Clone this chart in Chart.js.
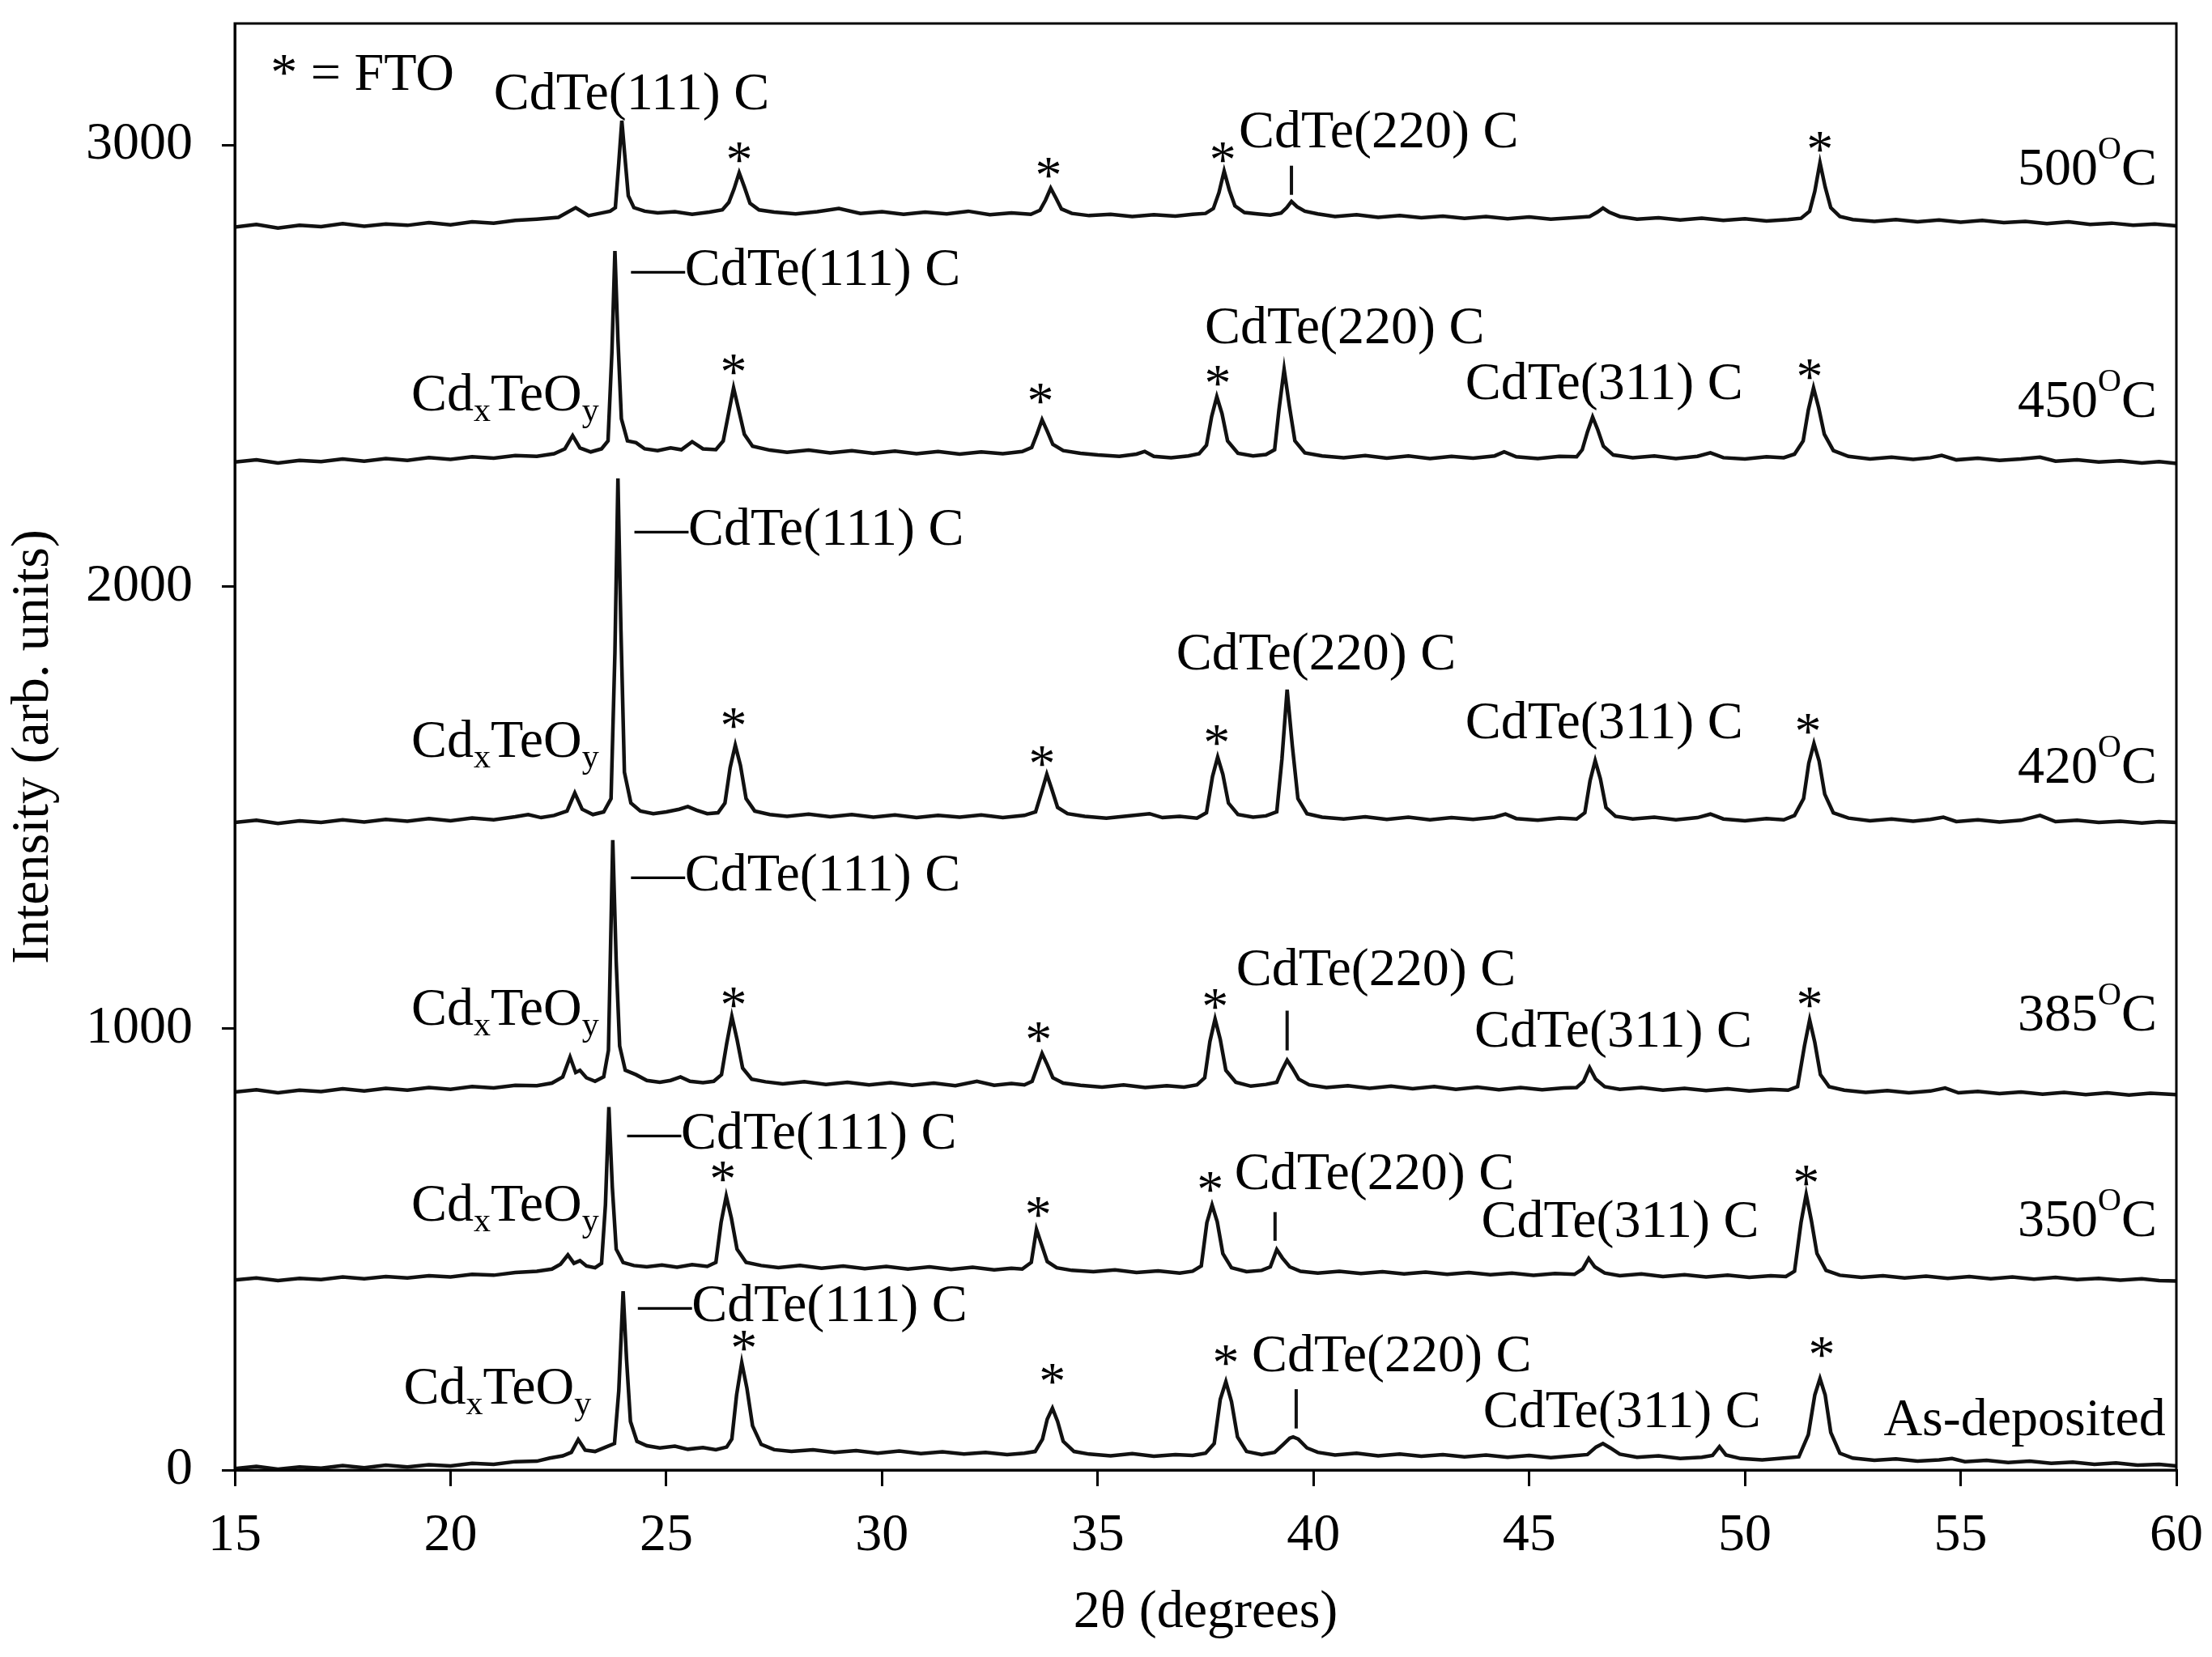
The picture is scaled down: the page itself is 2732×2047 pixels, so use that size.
<!DOCTYPE html>
<html>
<head>
<meta charset="utf-8">
<title>XRD CdTe</title>
<script src="https://cdn.jsdelivr.net/npm/chart.js@4.4.1/dist/chart.umd.min.js"></script>
<style>
  html, body { margin: 0; padding: 0; background: #fff; }
  canvas { display: block; }
</style>
</head>
<body>
<canvas id="xrd-chart" width="2732" height="2047"></canvas>
<script>
// Eixos
const xTicks = [15, 20, 25, 30, 35, 40, 45, 50, 55, 60];
const yTicks = [0, 1000, 2000, 3000];

// Difratogramas (2theta, intensidade)
const s500 = [
  [15.0,2814],[15.5,2820],[16.0,2812],[16.5,2818],[17.0,2815],[17.5,2822],[18.0,2816],[18.5,2821],[19.0,2818],[19.5,2824],
  [20.0,2819],[20.5,2826],[21.0,2823],[21.5,2829],[22.0,2832],[22.5,2836],[22.9,2858],[23.2,2840],[23.5,2846],[23.7,2850],
  [23.82,2858],[23.9,2960],[23.97,3055],[24.04,2975],[24.12,2885],[24.25,2858],[24.5,2850],[24.8,2846],[25.2,2849],[25.6,2843],
  [26.0,2848],[26.3,2853],[26.45,2870],[26.57,2900],[26.69,2937],[26.81,2905],[26.94,2868],[27.15,2853],[27.5,2848],[28.0,2844],
  [28.5,2849],[29.0,2856],[29.5,2845],[30.0,2849],[30.5,2843],[31.0,2848],[31.5,2844],[32.0,2850],[32.5,2842],[33.0,2846],
  [33.45,2843],[33.66,2852],[33.79,2875],[33.91,2902],[34.03,2880],[34.16,2855],[34.4,2845],[34.8,2840],[35.3,2843],[35.8,2838],
  [36.3,2842],[36.8,2839],[37.2,2843],[37.5,2845],[37.68,2856],[37.81,2892],[37.93,2941],[38.05,2898],[38.18,2862],[38.4,2847],
  [38.7,2844],[39.0,2841],[39.25,2846],[39.38,2858],[39.49,2872],[39.62,2860],[39.8,2850],[40.1,2844],[40.5,2838],[41.0,2842],
  [41.5,2836],[42.0,2840],[42.5,2835],[43.0,2839],[43.5,2834],[44.0,2838],[44.5,2833],[45.0,2837],[45.5,2832],[46.0,2835],
  [46.4,2838],[46.58,2848],[46.71,2857],[46.85,2848],[47.1,2838],[47.5,2832],[48.0,2835],[48.5,2830],[49.0,2834],[49.5,2829],
  [50.0,2833],[50.5,2828],[51.0,2831],[51.3,2834],[51.5,2850],[51.62,2895],[51.74,2960],[51.86,2905],[51.99,2858],[52.2,2838],
  [52.5,2831],[53.0,2827],[53.5,2831],[54.0,2826],[54.5,2830],[55.0,2825],[55.5,2829],[56.0,2824],[56.5,2827],[57.0,2822],
  [57.5,2826],[58.0,2820],[58.5,2823],[59.0,2818],[59.5,2821],[60.0,2817]
];

const s450 = [
  [15.0,2282],[15.5,2287],[16.0,2280],[16.5,2286],[17.0,2283],[17.5,2289],[18.0,2284],[18.5,2290],[19.0,2286],[19.5,2292],
  [20.0,2288],[20.5,2294],[21.0,2291],[21.5,2297],[22.0,2295],[22.4,2301],[22.65,2312],[22.83,2342],[23.0,2314],[23.25,2305],
  [23.5,2312],[23.65,2330],[23.74,2530],[23.81,2760],[23.88,2560],[23.96,2380],[24.1,2330],[24.3,2326],[24.5,2312],[24.8,2308],
  [25.1,2314],[25.35,2310],[25.6,2328],[25.85,2312],[26.15,2310],[26.32,2330],[26.44,2390],[26.56,2450],[26.68,2400],[26.81,2345],
  [27.0,2318],[27.4,2309],[27.8,2304],[28.3,2309],[28.8,2303],[29.3,2308],[29.8,2302],[30.3,2307],[30.8,2301],[31.3,2306],
  [31.8,2300],[32.3,2305],[32.8,2301],[33.25,2306],[33.47,2315],[33.59,2345],[33.71,2378],[33.83,2352],[33.96,2322],[34.2,2308],
  [34.6,2302],[35.0,2298],[35.5,2295],[35.9,2300],[36.09,2306],[36.3,2295],[36.7,2292],[37.1,2296],[37.35,2301],[37.52,2320],
  [37.64,2385],[37.76,2430],[37.88,2392],[38.01,2330],[38.25,2302],[38.6,2296],[38.9,2299],[39.1,2310],[39.2,2400],[39.32,2492],
  [39.44,2410],[39.57,2330],[39.8,2303],[40.2,2296],[40.7,2292],[41.2,2297],[41.7,2291],[42.2,2296],[42.7,2290],[43.2,2295],
  [43.7,2291],[44.2,2296],[44.42,2305],[44.7,2294],[45.2,2290],[45.7,2295],[46.1,2294],[46.23,2310],[46.35,2350],[46.47,2384],
  [46.59,2355],[46.72,2318],[46.95,2298],[47.4,2292],[47.9,2296],[48.4,2290],[48.9,2295],[49.2,2303],[49.5,2292],[50.0,2289],
  [50.5,2294],[50.9,2292],[51.15,2300],[51.35,2330],[51.47,2400],[51.59,2450],[51.71,2405],[51.84,2345],[52.05,2308],[52.4,2295],
  [52.9,2289],[53.4,2293],[53.9,2288],[54.3,2292],[54.56,2297],[54.9,2287],[55.4,2291],[55.9,2286],[56.4,2289],[56.84,2293],
  [57.2,2284],[57.7,2287],[58.2,2282],[58.7,2285],[59.2,2280],[59.6,2283],[60.0,2279]
];

const s420 = [
  [15.0,1466],[15.5,1471],[16.0,1464],[16.5,1470],[17.0,1466],[17.5,1472],[18.0,1467],[18.5,1473],[19.0,1469],[19.5,1475],
  [20.0,1470],[20.5,1476],[21.0,1472],[21.5,1479],[21.8,1484],[22.1,1477],[22.4,1482],[22.7,1492],[22.88,1533],[23.05,1496],
  [23.3,1484],[23.55,1490],[23.72,1520],[23.81,1850],[23.88,2245],[23.95,1900],[24.03,1580],[24.18,1510],[24.4,1492],[24.7,1486],
  [25.0,1490],[25.3,1496],[25.5,1502],[25.7,1494],[25.95,1486],[26.2,1488],[26.36,1510],[26.48,1590],[26.6,1641],[26.72,1595],
  [26.85,1520],[27.05,1492],[27.4,1484],[27.8,1480],[28.3,1485],[28.8,1479],[29.3,1484],[29.8,1478],[30.3,1483],[30.8,1477],
  [31.3,1482],[31.8,1478],[32.3,1483],[32.8,1477],[33.3,1482],[33.56,1490],[33.7,1535],[33.82,1575],[33.94,1540],[34.07,1500],
  [34.3,1486],[34.7,1480],[35.2,1476],[35.7,1481],[36.2,1486],[36.5,1477],[36.9,1480],[37.3,1476],[37.52,1488],[37.66,1570],
  [37.78,1614],[37.9,1575],[38.03,1510],[38.25,1484],[38.6,1478],[38.9,1481],[39.15,1490],[39.27,1610],[39.39,1767],[39.51,1640],
  [39.64,1520],[39.85,1486],[40.2,1478],[40.7,1474],[41.2,1479],[41.7,1473],[42.2,1478],[42.7,1472],[43.2,1477],[43.7,1473],
  [44.2,1478],[44.45,1485],[44.7,1475],[45.2,1471],[45.7,1476],[46.1,1474],[46.29,1488],[46.41,1560],[46.53,1606],[46.65,1565],
  [46.78,1500],[47.0,1480],[47.4,1474],[47.9,1478],[48.4,1472],[48.9,1477],[49.2,1485],[49.5,1474],[50.0,1470],[50.5,1475],
  [50.9,1472],[51.15,1482],[51.36,1520],[51.48,1600],[51.6,1645],[51.72,1605],[51.85,1530],[52.05,1488],[52.4,1476],[52.9,1470],
  [53.4,1474],[53.9,1469],[54.3,1473],[54.6,1478],[54.9,1468],[55.4,1472],[55.9,1467],[56.4,1471],[56.84,1482],[57.2,1468],
  [57.7,1471],[58.2,1466],[58.7,1469],[59.2,1465],[59.6,1468],[60.0,1466]
];

const s385 = [
  [15.0,856],[15.5,861],[16.0,854],[16.5,860],[17.0,857],[17.5,863],[18.0,858],[18.5,864],[19.0,860],[19.5,866],
  [20.0,862],[20.5,868],[21.0,865],[21.5,871],[22.0,870],[22.35,876],[22.6,890],[22.77,935],[22.9,900],[23.0,905],
  [23.15,888],[23.35,880],[23.55,890],[23.66,950],[23.76,1426],[23.84,1150],[23.92,960],[24.05,905],[24.3,895],[24.55,882],
  [24.85,878],[25.1,882],[25.33,890],[25.55,880],[25.85,877],[26.1,880],[26.28,895],[26.4,965],[26.52,1027],[26.64,975],
  [26.77,910],[26.98,885],[27.3,879],[27.7,874],[28.2,879],[28.7,873],[29.2,878],[29.7,872],[30.2,877],[30.7,871],
  [31.2,876],[31.7,870],[32.2,880],[32.6,871],[33.0,875],[33.3,872],[33.48,880],[33.59,910],[33.71,943],[33.83,918],
  [33.96,888],[34.2,876],[34.6,871],[35.1,867],[35.6,872],[36.1,866],[36.6,870],[37.0,867],[37.3,872],[37.48,888],
  [37.6,970],[37.72,1021],[37.84,975],[37.97,905],[38.2,878],[38.55,869],[38.9,873],[39.15,878],[39.27,905],[39.39,928],
  [39.51,910],[39.66,885],[39.9,872],[40.3,866],[40.8,870],[41.3,864],[41.8,869],[42.3,863],[42.8,868],[43.3,862],
  [43.8,867],[44.3,861],[44.8,866],[45.3,861],[45.8,865],[46.1,866],[46.26,880],[46.4,911],[46.54,885],[46.75,868],
  [47.1,862],[47.6,866],[48.1,860],[48.6,864],[49.1,859],[49.6,863],[50.1,858],[50.6,862],[51.0,860],[51.22,868],
  [51.38,960],[51.5,1019],[51.62,968],[51.75,895],[51.95,868],[52.3,860],[52.8,855],[53.3,859],[53.8,854],[54.3,858],
  [54.64,865],[54.95,854],[55.4,857],[55.9,852],[56.4,856],[56.9,851],[57.4,855],[57.9,850],[58.4,854],[58.9,849],
  [59.4,853],[60.0,850]
];

const s350 = [
  [15.0,430],[15.5,435],[16.0,429],[16.5,434],[17.0,431],[17.5,437],[18.0,433],[18.5,438],[19.0,435],[19.5,440],
  [20.0,437],[20.5,443],[21.0,441],[21.5,447],[22.0,450],[22.35,455],[22.55,466],[22.72,487],[22.86,468],[23.0,474],
  [23.15,462],[23.35,458],[23.5,468],[23.59,600],[23.67,822],[23.75,640],[23.84,500],[24.0,470],[24.25,463],[24.55,460],
  [24.9,464],[25.25,459],[25.6,465],[25.95,461],[26.15,470],[26.27,560],[26.39,620],[26.51,570],[26.64,500],[26.85,470],
  [27.2,463],[27.6,458],[28.1,463],[28.6,457],[29.1,462],[29.6,456],[30.1,461],[30.6,455],[31.1,460],[31.6,454],
  [32.1,459],[32.6,453],[33.0,457],[33.25,455],[33.46,470],[33.58,545],[33.7,510],[33.83,472],[34.05,458],[34.4,452],
  [34.9,449],[35.4,453],[35.9,447],[36.4,451],[36.9,446],[37.2,450],[37.4,462],[37.53,560],[37.65,600],[37.77,562],
  [37.9,490],[38.1,458],[38.45,449],[38.8,452],[39.0,460],[39.15,499],[39.28,480],[39.45,460],[39.7,450],[40.1,446],
  [40.6,450],[41.1,445],[41.6,449],[42.1,444],[42.6,448],[43.1,443],[43.6,447],[44.1,442],[44.6,446],[45.1,441],
  [45.6,445],[46.05,443],[46.24,455],[46.38,479],[46.52,460],[46.75,446],[47.1,440],[47.6,444],[48.1,438],[48.6,442],
  [49.1,437],[49.6,441],[50.1,436],[50.6,440],[50.95,438],[51.15,450],[51.3,560],[51.42,624],[51.54,565],[51.67,490],
  [51.88,452],[52.2,441],[52.7,436],[53.2,440],[53.7,435],[54.2,439],[54.7,434],[55.2,438],[55.7,433],[56.2,437],
  [56.7,432],[57.2,436],[57.7,431],[58.2,434],[58.7,430],[59.2,433],[59.6,429],[60.0,428]
];

const sAsDep = [
  [15.0,3],[15.5,8],[16.0,2],[16.5,7],[17.0,4],[17.5,10],[18.0,5],[18.5,11],[19.0,7],[19.5,12],
  [20.0,9],[20.5,15],[21.0,13],[21.5,19],[22.0,20],[22.3,27],[22.6,32],[22.8,40],[22.96,69],[23.12,45],
  [23.35,42],[23.6,52],[23.8,60],[23.9,180],[24.0,405],[24.08,250],[24.17,110],[24.32,65],[24.55,55],[24.85,50],
  [25.2,54],[25.5,47],[25.85,51],[26.15,46],[26.4,52],[26.52,70],[26.63,170],[26.75,243],[26.87,185],[27.0,100],
  [27.2,58],[27.5,46],[27.9,42],[28.4,46],[28.9,40],[29.4,44],[29.9,38],[30.4,43],[30.9,37],[31.4,41],
  [31.9,36],[32.4,40],[32.9,35],[33.3,38],[33.55,42],[33.72,70],[33.83,115],[33.95,140],[34.07,110],[34.2,65],
  [34.45,42],[34.8,36],[35.3,32],[35.8,37],[36.3,31],[36.8,35],[37.2,33],[37.5,38],[37.7,60],[37.84,160],
  [37.97,200],[38.1,155],[38.24,75],[38.45,42],[38.8,35],[39.1,40],[39.3,58],[39.45,72],[39.53,75],[39.65,70],
  [39.85,50],[40.1,40],[40.5,34],[41.0,38],[41.5,32],[42.0,36],[42.5,31],[43.0,35],[43.5,30],[44.0,34],
  [44.5,29],[45.0,33],[45.5,28],[46.0,32],[46.35,35],[46.55,52],[46.71,60],[46.88,50],[47.1,36],[47.5,29],
  [48.0,32],[48.5,26],[49.0,29],[49.25,33],[49.41,53],[49.56,34],[49.9,26],[50.4,23],[50.9,27],[51.25,30],
  [51.47,80],[51.62,170],[51.74,207],[51.86,170],[51.99,85],[52.2,38],[52.5,27],[53.0,22],[53.5,25],[54.0,20],
  [54.5,23],[54.8,26],[55.1,19],[55.6,22],[56.1,17],[56.6,20],[57.1,15],[57.6,18],[58.1,13],[58.6,16],
  [59.1,11],[59.6,13],[60.0,9]
];

// Rotulos das curvas (temperatura) e posicoes em coordenadas de dados
const tempNames = ['500', '450', '420', '385', '350'];
const tempY = [2947, 2420, 1593, 1031, 566];

// Asteriscos (FTO)
const ftoStars = [
  [26.69,2983],[33.86,2949],[37.90,2983],[51.74,3007],
  [26.56,2503],[33.67,2437],[37.78,2477],[51.50,2492],
  [26.56,1702],[33.71,1617],[37.76,1665],[51.46,1689],
  [26.56,1071],[33.63,991],[37.72,1067],[51.50,1071],
  [26.31,677],[33.62,596],[37.61,653],[51.42,668],
  [26.80,293],[33.95,218],[37.97,260],[51.78,279]
];

// CdTe(111), CdTe(220), CdTe(311), CdxTeOy: [x esquerda/direita, y]
const cdte111 = [[21.0,3112],[24.19,2714],[24.27,2127],[24.19,1344],[24.10,760],[24.35,369]];
const cdte220 = [[38.27,3026],[37.48,2582],[36.82,1845],[38.21,1130],[38.17,668],[38.57,255]];
const cdte311 = [[43.52,2456],[43.52,1689],[43.73,991],[43.89,560],[43.93,128]];
const cdxteoy = [[23.44,2435],[23.44,1651],[23.44,1044],[23.44,600],[23.26,187]];

// Tracos verticais do pico (220): [x, y inicio, y fim]
const ticks220 = [[39.49,2953,2887],[39.39,1040,950],[39.11,584,519],[39.60,183,94]];

const FONT = '"Liberation Serif", "Times New Roman", serif';
const FS = 66;

function toXY(arr) {
  return arr.map(p => ({ x: p[0], y: p[1] }));
}

// Texto com sub/sobrescrito
function drawRich(ctx, parts, px, py, align) {
  let total = 0;
  parts.forEach(p => {
    ctx.font = (p.sub || p.sup ? p.size || 42 : FS) + 'px ' + FONT;
    p.w = ctx.measureText(p.t).width;
    total += p.w;
  });
  let cx = align === 'right' ? px - total : (align === 'center' ? px - total / 2 : px);
  const base = py + FS * 0.3;
  parts.forEach(p => {
    ctx.font = (p.sub || p.sup ? p.size || 42 : FS) + 'px ' + FONT;
    let by = base;
    if (p.sub) by = base + 13;
    if (p.sup) by = base - 32;
    ctx.textAlign = 'left';
    ctx.textBaseline = 'alphabetic';
    ctx.fillText(p.t, cx, by);
    cx += p.w;
  });
}

const annotate = {
  id: 'annotate',
  afterDatasetsDraw(chart) {
    const { ctx, chartArea: a, scales: { x, y } } = chart;
    ctx.save();

    // moldura
    ctx.strokeStyle = '#000';
    ctx.lineWidth = 3;
    ctx.strokeRect(a.left, a.top, a.right - a.left, a.bottom - a.top);

    ctx.fillStyle = '#000';
    ctx.font = FS + 'px ' + FONT;
    ctx.textBaseline = 'middle';

    ctx.textAlign = 'left';
    ctx.fillText('* = FTO', x.getPixelForValue(15.83), y.getPixelForValue(3156));

    cdte111.forEach((p, i) => {
      const txt = i === 0 ? 'CdTe(111) C' : '\u2014CdTe(111) C';
      ctx.fillText(txt, x.getPixelForValue(p[0]), y.getPixelForValue(p[1]));
    });
    cdte220.forEach(p => ctx.fillText('CdTe(220) C', x.getPixelForValue(p[0]), y.getPixelForValue(p[1])));
    cdte311.forEach(p => ctx.fillText('CdTe(311) C', x.getPixelForValue(p[0]), y.getPixelForValue(p[1])));

    ctx.textAlign = 'right';
    ctx.fillText('As-deposited', x.getPixelForValue(59.75), y.getPixelForValue(111));

    // asteriscos
    ctx.textAlign = 'center';
    ctx.textBaseline = 'alphabetic';
    ftoStars.forEach(p => ctx.fillText('*', x.getPixelForValue(p[0]), y.getPixelForValue(p[1]) + FS * 0.47));

    cdxteoy.forEach(p => {
      drawRich(ctx, [{ t: 'Cd' }, { t: 'x', sub: true }, { t: 'TeO' }, { t: 'y', sub: true }],
        x.getPixelForValue(p[0]), y.getPixelForValue(p[1]), 'right');
    });

    tempNames.forEach((t, i) => {
      drawRich(ctx, [{ t: t }, { t: 'O', sup: true, size: 40 }, { t: 'C' }],
        x.getPixelForValue(59.55), y.getPixelForValue(tempY[i]), 'right');
    });

    ctx.strokeStyle = '#111';
    ctx.lineWidth = 4;
    ticks220.forEach(t => {
      const px = x.getPixelForValue(t[0]);
      ctx.beginPath();
      ctx.moveTo(px, y.getPixelForValue(t[1]));
      ctx.lineTo(px, y.getPixelForValue(t[2]));
      ctx.stroke();
    });

    ctx.restore();
  }
};

const series = [s500, s450, s420, s385, s350, sAsDep];
const names = ['500 C', '450 C', '420 C', '385 C', '350 C', 'As-deposited'];

const canvas = document.getElementById('xrd-chart');
if (typeof Chart === 'undefined') {
  console.error('Chart.js nao carregado');
} else {
  new Chart(canvas, {
    type: 'line',
    data: {
      datasets: series.map((s, i) => ({
        label: names[i],
        data: toXY(s),
        borderColor: '#111',
        borderWidth: 4.5,
        pointRadius: 0,
        tension: 0,
        fill: false
      }))
    },
    options: {
      responsive: false,
      animation: false,
      devicePixelRatio: 1,
      layout: { padding: { left: 0, right: 44, top: 29, bottom: 0 } },
      plugins: { legend: { display: false }, tooltip: { enabled: false } },
      scales: {
        x: {
          type: 'linear',
          min: 15,
          max: 60,
          afterBuildTicks: s => { s.ticks = xTicks.map(v => ({ value: v })); },
          afterFit: s => { s.height = 231; s.paddingLeft = 0; s.paddingRight = 0; },
          grid: { drawOnChartArea: false, drawTicks: true, tickLength: 20, color: '#000', lineWidth: 3 },
          border: { display: true, color: '#000', width: 3 },
          ticks: { color: '#000', font: { family: FONT, size: FS }, padding: 22, maxRotation: 0, autoSkip: false },
          title: {
            display: true,
            text: '2\u03b8 (degrees)',
            color: '#000',
            font: { family: FONT, size: FS },
            padding: { top: 0, bottom: 15 }
          }
        },
        y: {
          type: 'linear',
          min: 0,
          max: 3275,
          afterBuildTicks: s => { s.ticks = yTicks.map(v => ({ value: v })); },
          afterFit: s => { s.width = 290; s.paddingTop = 0; s.paddingBottom = 0; },
          grid: { drawOnChartArea: false, drawTicks: true, tickLength: 16, color: '#000', lineWidth: 3 },
          border: { display: true, color: '#000', width: 3 },
          ticks: {
            color: '#000',
            font: { family: FONT, size: FS },
            padding: 36,
            callback: v => String(v)
          },
          title: {
            display: true,
            text: 'Intensity (arb. units)',
            color: '#000',
            font: { family: FONT, size: FS },
            padding: { top: 2, bottom: 0 }
          }
        }
      }
    },
    plugins: [annotate]
  });
}
</script>
</body>
</html>
